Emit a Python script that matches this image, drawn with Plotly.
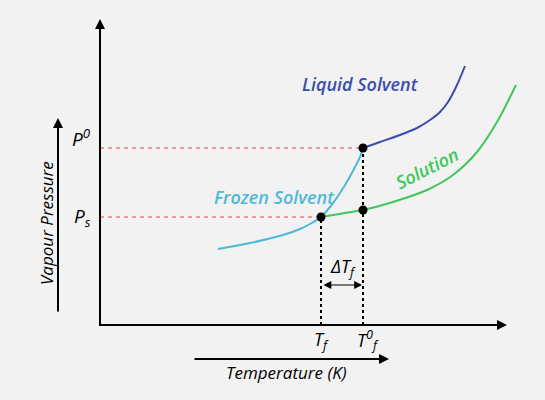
import plotly.graph_objects as go

# Schematic units: x = temperature, y = vapour pressure (origin of drawn axes at 100, 75)
frozen_T = [218, 250, 283, 300, 310, 321, 330, 340, 348, 355, 360, 363]
frozen_P = [151, 157, 165, 171, 176, 183, 193, 207, 220, 233, 243, 252]

liquid_T = [363, 380, 400, 417, 430, 440, 448, 457, 465]
liquid_P = [252, 258, 265, 272, 280, 288, 298, 315, 334]

solution_T = [321, 342, 363, 393, 427, 453, 477, 497, 516]
solution_P = [183, 186.5, 190, 198, 210, 225, 248, 278, 315]

T_f, T0_f = 321, 363
P0, Ps = 252, 183
P_sol_T0 = 190

x_axis = [100, 507]
y_axis = [75, 381]

BG = "#f2f2f2"
LIQ = "#3a4db0"
FROZ = "#4db8d8"
SOL = "#3ec85c"
RED = "#f07a7a"
FONT = "Open Sans"

fig = go.Figure()

# red dashed guide lines
fig.add_trace(go.Scatter(x=[x_axis[0], T0_f], y=[P0, P0], mode="lines",
                         line=dict(color=RED, width=1.6, dash="4px,4px"), hoverinfo="skip"))
fig.add_trace(go.Scatter(x=[x_axis[0], T_f], y=[Ps, Ps], mode="lines",
                         line=dict(color=RED, width=1.6, dash="4px,4px"), hoverinfo="skip"))

# black dotted verticals
for t, p in [(T_f, Ps), (T0_f, P0)]:
    fig.add_trace(go.Scatter(x=[t, t], y=[y_axis[0], p], mode="lines",
                             line=dict(color="black", width=2, dash="3px,3px"), hoverinfo="skip"))

# curves
fig.add_trace(go.Scatter(x=frozen_T, y=frozen_P, mode="lines",
                         line=dict(color=FROZ, width=2, shape="spline", smoothing=0.8)))
fig.add_trace(go.Scatter(x=liquid_T, y=liquid_P, mode="lines",
                         line=dict(color=LIQ, width=2, shape="spline", smoothing=0.8)))
fig.add_trace(go.Scatter(x=solution_T, y=solution_P, mode="lines",
                         line=dict(color=SOL, width=2, shape="spline", smoothing=0.8)))

# points
fig.add_trace(go.Scatter(x=[T0_f, T_f, T0_f], y=[P0, Ps, P_sol_T0], mode="markers",
                         marker=dict(color="black", size=9)))


def arrow(x0, y0, x1, y1, width=2, both=False, size=1.0):
    fig.add_annotation(x=x1, y=y1, ax=x0, ay=y0, xref="x", yref="y", axref="x", ayref="y",
                       text="", showarrow=True, arrowhead=2, arrowsize=size, arrowwidth=width,
                       arrowcolor="black", arrowside="end+start" if both else "end",
                       startarrowhead=2, startarrowsize=size)


# main axes
fig.add_trace(go.Scatter(x=[x_axis[0], x_axis[0], x_axis[1] - 8], y=[y_axis[1] - 8, y_axis[0], y_axis[0]],
                         mode="lines", line=dict(color="black", width=2), hoverinfo="skip"))
arrow(x_axis[0], y_axis[1] - 10, x_axis[0], y_axis[1])
arrow(x_axis[1] - 10, y_axis[0], x_axis[1], y_axis[0])

# side arrows
arrow(58, 87, 58, 282)
arrow(193, 41, 389, 41)

# delta T arrow
arrow(T_f + 1, 115, T0_f - 1, 115, width=1.2, both=True, size=1.3)

# text labels
def label(x, y, text, color="black", size=16, angle=0, weight=400):
    fig.add_annotation(x=x, y=y, xref="x", yref="y", text=text, showarrow=False,
                       textangle=angle, font=dict(family=FONT, size=size, color=color, weight=weight))


label(360, 316, "<i>Liquid Solvent</i>", LIQ, 18, weight=600)
label(274, 203, "<i>Frozen Solvent</i>", FROZ, 18, weight=600)
label(427, 232, "<i>Solution</i>", SOL, 18, -27, weight=600)
label(81, 262, "<i>P<sup>0</sup></i>", "black", 19)
label(82, 183, "<i>P<sub>s</sub></i>", "black", 19)
label(321, 60, "<i>T<sub>f</sub></i>", "black", 18)
label(368, 60, "<i>T<sup>0</sup><sub>f</sub></i>", "black", 18)
label(343, 133, "<i>ΔT<sub>f</sub></i>", "black", 18)
label(286, 28, "<i>Temperature (K)</i>", "black", 17)
label(46, 177, "<i>Vapour Pressure</i>", "black", 17, -90)

fig.update_layout(
    width=545, height=400, autosize=False,
    margin=dict(l=0, r=0, t=0, b=0),
    paper_bgcolor=BG, plot_bgcolor=BG,
    showlegend=False,
    xaxis=dict(range=[0, 545], visible=False, fixedrange=True),
    yaxis=dict(range=[0, 400], visible=False, fixedrange=True),
)

fig.write_html("out.html", config={"displayModeBar": False},
               post_script="document.body.style.margin='0';document.body.style.background='#f2f2f2';")
